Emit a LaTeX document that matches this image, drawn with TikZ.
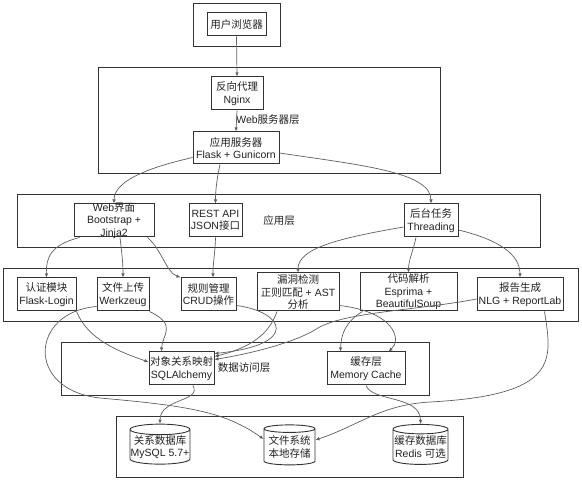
\documentclass[tikz,border=0pt]{standalone}
\usepackage{fontspec}
\setmainfont{Liberation Sans}
\newfontfamily\zhfont{Noto Sans CJK SC}
\newcommand{\zh}[1]{{\zhfont #1}}
\usetikzlibrary{arrows.meta,shapes.geometric,calc}
\definecolor{boxline}{HTML}{333333}
\definecolor{edgeline}{HTML}{5F5F5F}
\definecolor{textgray}{HTML}{222222}

\begin{document}
\begin{tikzpicture}[x=1pt,y=-1pt,
  every node/.style={font=\fontsize{10.5}{12.5}\selectfont,text=textgray},
  layer/.style={draw=boxline,line width=0.9pt,fill=white},
  box/.style={draw=boxline,line width=1pt,fill=white,inner sep=0pt,align=center},
  dbase/.style={cylinder,shape border rotate=90,aspect=0.18,draw=boxline,line width=0.9pt,
    fill=white,inner sep=0pt,align=center},
  edge/.style={draw=edgeline,line width=0.7pt,-{Latex[length=4pt,width=3.5pt]}},
  lbl/.style={inner sep=0pt}
  ]
\useasboundingbox (0,0) rectangle (582,481);
% layers
\path[layer] (193,3) rectangle (280,46);
\path[layer] (98,67) rectangle (440,173);
\path[layer] (17,194) rectangle (540,247);
\path[layer] (3,268) rectangle (578,321);
\path[layer] (61,342) rectangle (429,395);
\path[layer] (116,416) rectangle (463,477);

% layer labels
\node[lbl] (lweb) at (268,120) {Web\zh{服务器层}};
\node[lbl] (lapp) at (279,221) {\zh{应用层}};
\node[lbl] (ldata) at (244,368) {\zh{数据访问层}};

% nodes
\node[box,minimum width=59pt,minimum height=23pt] (browser) at (236.5,24.5) {\zh{用户浏览器}};
\node[box,minimum width=52pt,minimum height=33pt] (nginx) at (237,93.5) {\zh{反向代理}\\Nginx};
\node[box,minimum width=86pt,minimum height=32pt] (app) at (236,148) {\zh{应用服务器}\\Flask + Gunicorn};

\node[box,minimum width=80pt,minimum height=33pt,inner ysep=-1.8pt] (web) at (114,220.5) {Web\zh{界面}\\Bootstrap +\\Jinja2};
\node[box,minimum width=53pt,minimum height=33pt] (api) at (215.5,220.5) {REST API\\JSON\zh{接口}};
\node[box,minimum width=54pt,minimum height=33pt] (task) at (431,220.5) {\zh{后台任务}\\Threading};

\node[box,minimum width=59pt,minimum height=33pt] (auth) at (46.5,294.5) {\zh{认证模块}\\Flask-Login};
\node[box,minimum width=52pt,minimum height=33pt] (upload) at (123,294.5) {\zh{文件上传}\\Werkzeug};
\node[box,minimum width=55pt,minimum height=33pt] (rule) at (208.5,294.5) {\zh{规则管理}\\CRUD\zh{操作}};
\node[box,minimum width=82pt,minimum height=38pt] (vuln) at (298,292) {\zh{漏洞检测}\\\zh{正则匹配} + AST\\\zh{分析}};
\node[box,minimum width=97pt,minimum height=38pt] (parse) at (408.5,292) {\zh{代码解析}\\Esprima +\\BeautifulSoup};
\node[box,minimum width=86pt,minimum height=33pt] (report) at (520,294.5) {\zh{报告生成}\\NLG + ReportLab};

\node[box,minimum width=65pt,minimum height=33pt] (orm) at (181.5,368.5) {\zh{对象关系映射}\\SQLAlchemy};
\node[box,minimum width=78pt,minimum height=33pt] (cache) at (366,368.5) {\zh{缓存层}\\Memory Cache};

\node[dbase,minimum width=60pt,minimum height=40pt] (mysql) at (160,447) {\zh{关系数据库}\\MySQL 5.7+};
\node[dbase,minimum width=51pt,minimum height=40pt] (fs) at (289.5,447) {\zh{文件系统}\\\zh{本地存储}};
\node[dbase,minimum width=55pt,minimum height=40pt] (redis) at (420.5,447) {\zh{缓存数据库}\\Redis \zh{可选}};

% connectors
\draw[edge] (browser.south) -- (nginx.north);
\draw[edge] (nginx.south) -- (app.north);
\draw[edge] ($(app.south west)+(0,-7)$) .. controls (160,165) and (114,178) .. (web.north);
\draw[edge] ($(app.south)+(-16,0)$) .. controls (217,178) and (215.5,190) .. (api.north);
\draw[edge] ($(app.east)+(0,5)$) .. controls (360,165) and (431,172) .. (task.north);

\draw[edge] ($(web.south west)+(6,0)$) .. controls (50,245) and (46,258) .. (auth.north);
\draw[edge] ($(web.south)+(6,0)$) .. controls (122,255) and (123,262) .. (upload.north);
\draw[edge] ($(web.south east)+(-7,0)$) .. controls (162,250) and (166,272) .. (rule.north west);
\draw[edge] (api.south) .. controls (215,255) and (213,262) .. ($(rule.north)+(4.5,0)$);
\draw[edge] ($(task.west)+(0,6.5)$) .. controls (340,238) and (298,248) .. (vuln.north);
\draw[edge] ($(task.south)+(-15,0)$) .. controls (413,252) and (408.5,260) .. (parse.north);
\draw[edge] ($(task.east)+(0,9.5)$) .. controls (500,240) and (520,255) .. (report.north);

\draw[edge] (auth.south east) .. controls (88,340) and (120,352) .. ($(orm.west)+(0,-6.5)$);
\draw[edge] (upload.south east) .. controls (178,325) and (162,335) .. ($(orm.north west)+(13,0)$);
\draw[edge] ($(upload.south west)+(0,-5)$) .. controls (30,312) and (25,390) .. (100,398)
  .. controls (190,406) and (225,412) .. ($(fs.west)+(0,-8)$);
\draw[edge] ($(rule.south east)+(0,-6)$) .. controls (285,312) and (300,345) .. ($(orm.north east)+(0,2)$);
\draw[edge] ($(vuln.south)+(-21,0)$) .. controls (272,325) and (262,345) .. ($(orm.north east)+(0,5)$);
\draw[edge] ($(report.west)+(0,4.5)$) .. controls (420,310) and (345,312) .. (318,328)
  .. controls (300,340) and (260,352) .. ($(orm.north east)+(0,8)$);
\draw[edge] ($(parse.south west)+(3,0)$) .. controls (345,322) and (341,335) .. ($(cache.north west)+(14,0)$);
\draw[edge] ($(vuln.south east)+(0,-6)$) .. controls (395,312) and (402,340) .. ($(cache.north east)+(-17,0)$);
\draw[edge] ($(report.south east)+(-19,0)$) .. controls (552,360) and (560,395) .. (430,402)
  .. controls (380,405) and (360,425) .. ($(fs.east)+(0,-7)$);

\draw[edge] ($(orm.south)+(11.5,0)$) .. controls (202,402) and (160,398) .. (mysql.north);
\draw[edge] (cache.south) .. controls (372,402) and (420.5,395) .. (redis.north);
\end{tikzpicture}
\end{document}
